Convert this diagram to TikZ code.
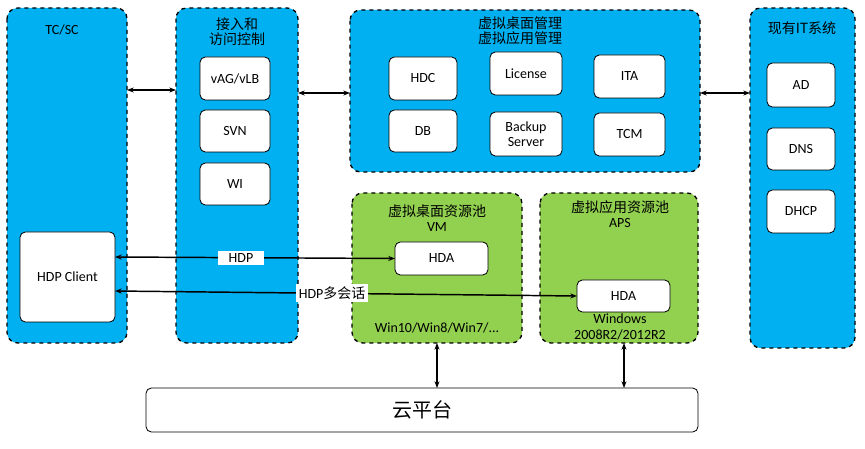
\documentclass[tikz,border=0pt]{standalone}
\usepackage{fontspec}
\setmainfont{Carlito}
\newfontfamily\cjk{Noto Sans CJK SC}
\usetikzlibrary{arrows.meta}
\definecolor{pblue}{HTML}{00B0F0}
\definecolor{pgreen}{HTML}{92D050}
\begin{document}
\begin{tikzpicture}[x=0.75pt,y=-0.75pt,
 panel/.style={draw=black,dashed,line width=1pt,rounded corners=8pt},
 box/.style={draw=black,fill=white,rounded corners=4pt,line width=0.6pt},
 lbl/.style={font=\fontsize{10.5}{11.5}\selectfont,align=center},
 arr/.style={{Stealth[length=5pt]}-{Stealth[length=5pt]},line width=1.1pt}]
\useasboundingbox (0,0) rectangle (865,449);
% panels
\draw[panel,fill=pblue] (7,8) rectangle (127,343);
\node[lbl] (tct) at (62,30) {TC/SC};
\draw[box] (20,232) rectangle (115,322);
\node[lbl] (hdpc) at (67.5,277) {HDP Client};
\draw[panel,fill=pblue] (176,8) rectangle (298,343);
\node[lbl] (acct) at (237,32) {\cjk 接入和\\\cjk 访问控制};
\draw[box] (200,57) rectangle (270,100); \node[lbl] (vag) at (235,78.5) {vAG/vLB};
\draw[box] (200,110) rectangle (270,152); \node[lbl] (svn) at (235,131) {SVN};
\draw[box] (200,163) rectangle (270,205); \node[lbl] (wi) at (235,184) {WI};
\draw[panel,fill=pblue] (350,10) rectangle (700,172);
\node[lbl] (mgt) at (520,31) {\cjk 虚拟桌面管理\\\cjk 虚拟应用管理};
\draw[box] (389,57) rectangle (457,100); \node[lbl] (hdc) at (423,78.5) {HDC};
\draw[box] (490,52) rectangle (562,95); \node[lbl] (lic) at (526,73.5) {License};
\draw[box] (594,55) rectangle (665,98); \node[lbl] (ita) at (629.5,76.5) {ITA};
\draw[box] (389,110) rectangle (457,152); \node[lbl] (db) at (423,131) {DB};
\draw[box] (490,112) rectangle (562,156); \node[lbl] (bk) at (526,134) {Backup\\Server};
\draw[box] (594,113) rectangle (665,156); \node[lbl] (tcm) at (629.5,134.5) {TCM};
\draw[panel,fill=pblue] (750,8) rectangle (855,348);
\node[lbl] (itt) at (802,28) {\cjk 现有IT系统};
\draw[box] (767,63) rectangle (835,107); \node[lbl] (ad) at (801,85) {AD};
\draw[box] (767,128) rectangle (835,170); \node[lbl] (dns) at (801,149) {DNS};
\draw[box] (767,190) rectangle (835,233); \node[lbl] (dhcp) at (801,211.5) {DHCP};
\draw[panel,fill=pgreen] (352,193) rectangle (522,343);
\node[lbl] (vmt) at (437,218) {\cjk 虚拟桌面资源池\\VM};
\draw[box] (395,242) rectangle (488,275); \node[lbl] (hda1) at (441.5,258.5) {HDA};
\node[lbl] (win) at (437,328) {Win10/Win8/Win7/...};
\draw[panel,fill=pgreen] (540,193) rectangle (698,343);
\node[lbl] (apst) at (620,214) {\cjk 虚拟应用资源池\\APS};
\draw[box] (577,280) rectangle (670,312); \node[lbl] (hda2) at (623.5,296) {HDA};
\node[lbl] (ws) at (620,327) {Windows\\2008R2/2012R2};
\draw[box] (146,388) rectangle (698,432);
\node[font=\fontsize{15}{17}\selectfont\cjk] (cloud) at (422,410) {云平台};
% connectors
\coordinate (a1) at (127,90); \coordinate (a2) at (176,90);
\coordinate (b1) at (298,93); \coordinate (b2) at (350,93);
\coordinate (c1) at (700,93); \coordinate (c2) at (750,93);
\draw[arr] (a1) -- (a2); \draw[arr] (b1) -- (b2); \draw[arr] (c1) -- (c2);
\coordinate (h1) at (115,257); \coordinate (h2) at (395,258.5);
\draw[arr] (h1) -- node[pos=0.45,fill=white,lbl,inner sep=2pt,minimum width=34pt] {HDP} (h2);
\coordinate (m1) at (115,291); \coordinate (m2) at (577,296);
\draw[arr] (m1) -- node[pos=0.47,fill=white,lbl,inner sep=2pt] {HDP\cjk 多会话} (m2);
\coordinate (v1) at (437,343); \coordinate (v2) at (437,388);
\coordinate (w1) at (624,343); \coordinate (w2) at (624,388);
\draw[arr] (v1) -- (v2); \draw[arr] (w1) -- (w2);
\end{tikzpicture}
\end{document}
